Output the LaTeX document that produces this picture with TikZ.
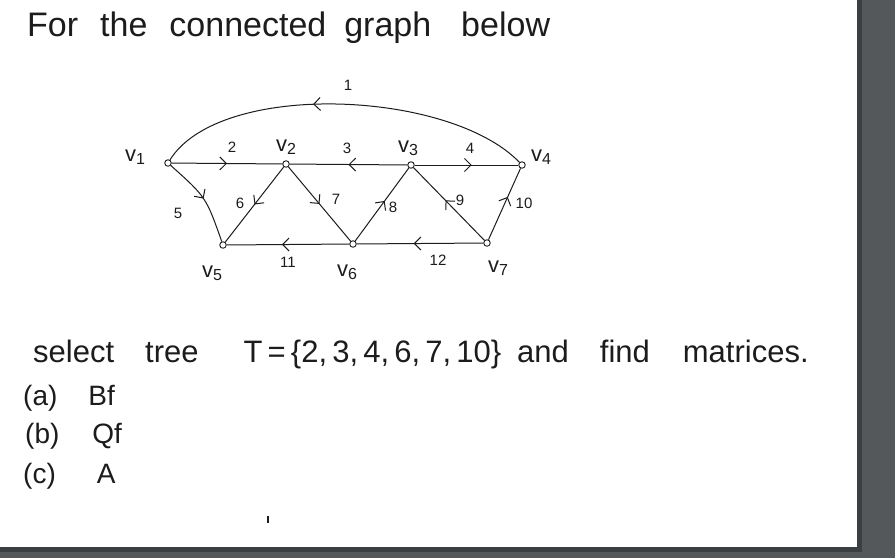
\documentclass[tikz,border=0pt]{standalone}
\usepackage{fontspec}
\setmainfont{Liberation Sans}
\usetikzlibrary{arrows.meta,decorations.markings}
\definecolor{bggray}{RGB}{84,88,91}
\definecolor{shadowgray}{RGB}{60,63,66}
\definecolor{ink}{RGB}{28,28,28}
\newcommand{\vlabtxt}[1]{v\raisebox{-3pt}{\fontsize{16}{16}\selectfont #1}}
\tikzset{
  vtx/.style={circle,draw=ink,fill=white,line width=0.9pt,inner sep=0pt,minimum size=6.5pt},
  edg/.style={draw=ink,line width=1pt},
  midarr/.style={postaction={decorate},decoration={markings,mark=at position #1 with {\arrow{Straight Barb[length=6.5pt,width=13pt,line width=1pt]}}}},
  midarr/.default=0.55,
  vlab/.style={text=ink,font=\fontsize{22}{22}\selectfont,inner sep=0pt},
  elab/.style={text=ink,font=\fontsize{15}{15}\selectfont,inner sep=0pt},
  txt/.style={text=ink,anchor=base west,inner sep=0pt},
}
\begin{document}
\begin{tikzpicture}[x=1pt,y=-1pt]
\useasboundingbox (0,0) rectangle (895,558);
% background and page
\fill[bggray] (0,0) rectangle (895,558);
\fill[shadowgray] (0,0) rectangle (862,552);
\fill[white] (0,0) rectangle (857,547);

% text
\node[txt,font=\fontsize{34}{40}\selectfont] (t1) at (27,36)
  {For\hspace{22pt}the\hspace{22pt}connected\hspace{18pt}graph\hspace{30pt}below};
\node[txt,font=\fontsize{31}{36}\selectfont] (t2) at (33,362)
  {select\hspace{31pt}tree\hspace{45pt}T\,=\,\{2,\,3,\,4,\,6,\,7,\,10\}\hspace{16pt}and\hspace{31pt}find\hspace{33pt}matrices.};
\node[txt,font=\fontsize{28}{32}\selectfont] (ta) at (23,405) {(a)\hspace{31pt}Bf};
\node[txt,font=\fontsize{28}{32}\selectfont] (tb) at (25,443) {(b)\hspace{33pt}Qf};
\node[txt,font=\fontsize{28}{32}\selectfont] (tc) at (23,483) {(c)\hspace{41pt}A};
\fill[ink] (267,516) rectangle (269,523);

% vertices
\node[vtx] (v1) at (168,163) {};
\node[vtx] (v2) at (286,164) {};
\node[vtx] (v3) at (411,165) {};
\node[vtx] (v4) at (522,165) {};
\node[vtx] (v5) at (223,245) {};
\node[vtx] (v6) at (353,244) {};
\node[vtx] (v7) at (487,243) {};

% vertex labels
\node[vlab] (l1) at (135,157) {\vlabtxt{1}};
\node[vlab] (l2) at (286,147) {\vlabtxt{2}};
\node[vlab] (l3) at (408,148) {\vlabtxt{3}};
\node[vlab] (l4) at (541,157) {\vlabtxt{4}};
\node[vlab] (l5) at (212,273) {\vlabtxt{5}};
\node[vlab] (l6) at (347,272) {\vlabtxt{6}};
\node[vlab] (l7) at (498,268) {\vlabtxt{7}};

% edges
\draw[edg,midarr=0.58] (v4) .. controls (450,90) and (220,80) .. (v1);
\draw[edg,midarr=0.5] (v1) -- (v2);
\draw[edg,midarr=0.5] (v3) -- (v2);
\draw[edg,midarr=0.55] (v3) -- (v4);
\draw[edg,midarr=0.5] (v1) .. controls (206,197) .. (v5);
\draw[edg,midarr=0.5] (v2) -- (v5);
\draw[edg,midarr=0.5] (v2) -- (v6);
\draw[edg,midarr=0.55] (v6) -- (v3);
\draw[edg,midarr=0.55] (v7) -- (v3);
\draw[edg,midarr=0.6] (v7) -- (v4);
\draw[edg,midarr=0.55] (v6) -- (v5);
\draw[edg,midarr=0.55] (v7) -- (v6);

% edge labels
\node[elab] (e1) at (348,85) {1};
\node[elab] (e2) at (232,147) {2};
\node[elab] (e3) at (347,148) {3};
\node[elab] (e4) at (470,148) {4};
\node[elab] (e5) at (178,213) {5};
\node[elab] (e6) at (240,203) {6};
\node[elab] (e7) at (336,199) {7};
\node[elab] (e8) at (393,207) {8};
\node[elab] (e9) at (460,200) {9};
\node[elab] (e10) at (524,203) {10};
\node[elab] (e11) at (288,262) {11};
\node[elab] (e12) at (438,260) {12};
\end{tikzpicture}
\end{document}
